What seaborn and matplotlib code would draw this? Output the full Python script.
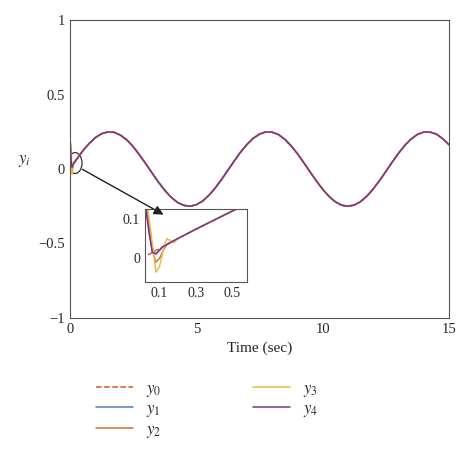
import numpy as np
import pandas as pd
import matplotlib
matplotlib.use('Agg')
import matplotlib.pyplot as plt
import seaborn as sns
from matplotlib.patches import Ellipse

sns.set_style('white')
plt.rcParams['font.family'] = ['Liberation Serif', 'DejaVu Serif']
plt.rcParams['mathtext.fontset'] = 'stix'

# steady-state response sampled every 0.25 s
t_main = np.arange(0, 15.01, 0.25)
y_main = [0.000, 0.062, 0.120, 0.170, 0.210, 0.237, 0.249, 0.246, 0.227, 0.195,
          0.150, 0.095, 0.035, -0.027, -0.088, -0.143, -0.189, -0.224, -0.244, -0.250,
          -0.240, -0.215, -0.176, -0.127, -0.070, -0.008, 0.054, 0.113, 0.164, 0.206,
          0.234, 0.249, 0.247, 0.231, 0.200, 0.156, 0.103, 0.043, -0.019, -0.080,
          -0.136, -0.184, -0.220, -0.243, -0.250, -0.242, -0.219, -0.182, -0.134, -0.078,
          -0.017, 0.046, 0.105, 0.158, 0.201, 0.232, 0.248, 0.248, 0.234, 0.204, 0.163]

# early transient (0 - 0.6 s)
t_tr = [0, 0.02, 0.04, 0.06, 0.08, 0.1, 0.12, 0.14, 0.16, 0.18, 0.2, 0.25, 0.3, 0.4, 0.5, 0.6]
y0_tr = [0, .005, .010, .015, .020, .025, .030, .035, .040, .045, .050, .062, .074, .097, .120, .141]
y1_tr = [0.2, 0.15, 0.08, 0.02, 0.010, 0.022, 0.030, 0.035, 0.040, 0.045, 0.050, .062, .074, .097, .120, .141]
y2_tr = [0.2, 0.16, 0.09, 0.02, -0.010, 0.000, 0.020, 0.035, 0.040, 0.045, 0.050, .062, .074, .097, .120, .141]
y3_tr = [0.2, 0.17, 0.11, 0.04, -0.035, -0.020, 0.020, 0.050, 0.045, 0.040, 0.050, .062, .074, .097, .120, .141]
y4_tr = [0.2, 0.14, 0.07, 0.015, 0.012, 0.020, 0.030, 0.035, 0.040, 0.045, 0.050, .062, .074, .097, .120, .141]

labels = ['$y_0$', '$y_1$', '$y_2$', '$y_3$', '$y_4$']
colors = ['#d9542a', '#4a7fc1', '#c8702a', '#e8b84a', '#7e2f8e']
styles = ['--', '-', '-', '-', '-']
trans = [y0_tr, y1_tr, y2_tr, y3_tr, y4_tr]

keep = t_main > 0.6
def full(tr):
    return (np.concatenate([t_tr, t_main[keep]]),
            np.concatenate([tr, np.array(y_main)[keep]]))

fig = plt.figure(figsize=(4.74, 4.51), dpi=100)
ax = fig.add_axes([70/474, 1-318/451, 379/474, 298/451])
for tr, lab, c, ls in zip(trans, labels, colors, styles):
    tt, yy = full(tr)
    sns.lineplot(x=tt, y=yy, ax=ax, color=c, linestyle=ls, lw=1.1, label=lab, sort=False)

ax.set_xlim(0, 15)
ax.set_ylim(-1, 1)
ax.set_xticks([0, 5, 10, 15])
ax.set_yticks([-1, -0.5, 0, 0.5, 1])
ax.set_yticklabels(['−1', '−0.5', '0', '0.5', '1'])
ax.set_xlabel('Time (sec)', fontsize=11)
ax.set_ylabel('$y_i$', fontsize=12, rotation=0, labelpad=10)
ax.tick_params(direction='in', length=4, labelsize=10.5)
for s in ax.spines.values():
    s.set_color('#555555')
    s.set_linewidth(0.8)

ax.add_patch(Ellipse((0.2, 0.04), 0.55, 0.14, fill=False, ec='#333333', lw=0.9))

h, l = ax.get_legend_handles_labels()
ax.legend(h, l, loc='upper left', bbox_to_anchor=(0.03, -0.16), ncol=2, frameon=False,
          fontsize=12, handlelength=2.2, columnspacing=5.5, labelspacing=0.15)

ins = fig.add_axes([145/474, 1-282/451, 102/474, 73/451])
for tr, c, ls in zip(trans, colors, styles):
    sns.lineplot(x=t_tr, y=tr, ax=ins, color=c, linestyle=ls, lw=1.0, sort=False)
ins.set_xlim(0.02, 0.58)
ins.set_ylim(-0.06, 0.125)
ins.set_xticks([0.1, 0.3, 0.5])
ins.set_yticks([0, 0.1])
ins.set_yticklabels(['0', '0.1'])
ins.tick_params(direction='in', length=3, labelsize=10)
for s in ins.spines.values():
    s.set_color('#555555')
    s.set_linewidth(0.8)

# arrow from ellipse into the inset, drawn on top of everything
fig.add_artist(matplotlib.patches.FancyArrowPatch(
    (80/474, 1-168/451), (166/474, 1-216/451), transform=fig.transFigure,
    arrowstyle='-|>', color='#222222', lw=1.0, mutation_scale=14, zorder=10))

fig.savefig('out.png', dpi=100)
